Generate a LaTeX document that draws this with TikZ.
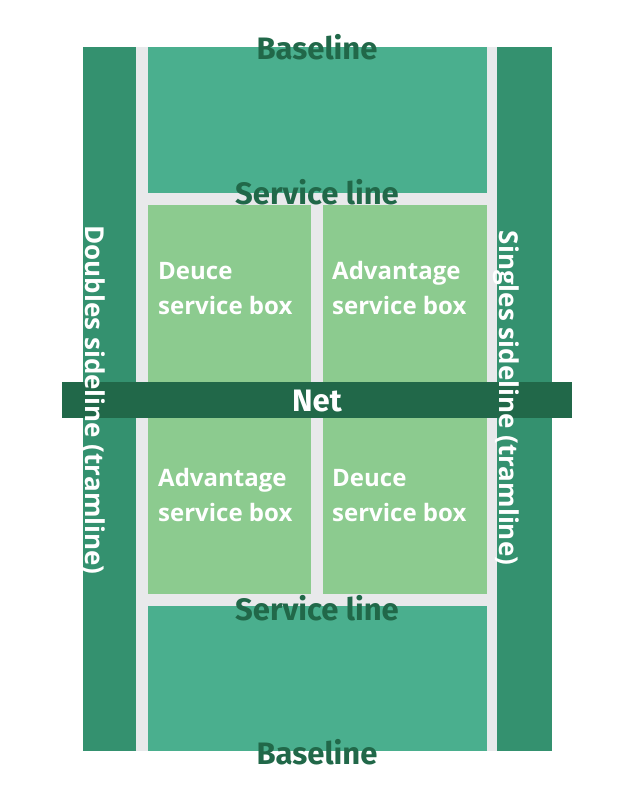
\documentclass[tikz,border=0pt]{standalone}
\usepackage{fontspec}
\setmainfont{Open Sans}
\newfontfamily\labelfont{Fira Sans}
\usepackage{tikz}
\usetikzlibrary{positioning}
\definecolor{alley}{HTML}{34916F}
\definecolor{backcourt}{HTML}{4AAF8E}
\definecolor{servebox}{HTML}{8CCB8F}
\definecolor{courtline}{HTML}{E8E9EB}
\definecolor{netgreen}{HTML}{216849}

\begin{document}
\begin{tikzpicture}[
      x=1pt, y=-1pt,
      lbl/.style={font=\labelfont\fontsize{31}{31}\selectfont\bfseries, text=netgreen, inner sep=0pt},
      boxtxt/.style={font=\fontsize{24}{35}\selectfont\bfseries, text=white, align=left,
                     inner sep=0pt, anchor=north west},
      side/.style={font=\fontsize{26}{26}\selectfont\bfseries, text=white, inner sep=0pt, rotate=-90}
    ]
    \useasboundingbox (0,0) rectangle (637,800);
    % court surface
    \fill[courtline] (136,47) rectangle (497,751);
    \fill[alley] (83,47) rectangle (136,751);
    \fill[alley] (497,47) rectangle (552,751);
    \fill[backcourt] (148,47) rectangle (487,193);
    \fill[backcourt] (148,606) rectangle (487,751);
    \fill[servebox] (148,205) rectangle (311,594);
    \fill[servebox] (323,205) rectangle (487,594);
    \fill[netgreen] (62,382) rectangle (572,418);
    % texts
    \node[lbl] (base1) at (317,47) {Baseline};
    \node[lbl] (base2) at (317,752) {Baseline};
    \node[lbl] (serv1) at (317,192) {Service line};
    \node[lbl] (serv2) at (317,608) {Service line};
    \node[lbl, text=white] (net) at (317,401) {Net};
    \node[boxtxt] (deuce1) at (158,262) {Deuce\\service box};
    \node[boxtxt] (adv1) at (332,261) {Advantage\\service box};
    \node[boxtxt] (adv2) at (158,468) {Advantage\\service box};
    \node[boxtxt] (deuce2) at (332,469) {Deuce\\service box};
    \node[side] (dbl) at (93,400) {Doubles sideline (tramline)};
    \node[side] (sgl) at (506,398) {Singles sideline (tramline)};
  \end{tikzpicture}
\end{document}
